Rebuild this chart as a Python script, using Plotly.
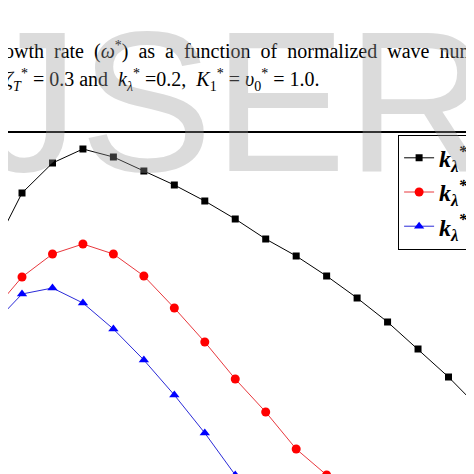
import plotly.graph_objects as go

# point index (-1 lies just left of the crop)
idx_black = list(range(-1, 16))
black = [2.22, 2.82, 3.12, 3.26, 3.18, 3.04, 2.90, 2.74, 2.56, 2.36, 2.19, 1.99, 1.77, 1.53, 1.26, 0.98, 0.67]
idx_red = list(range(-1, 11))
red = [1.62, 1.98, 2.21, 2.31, 2.21, 1.99, 1.67, 1.33, 0.96, 0.63, 0.26, 0.0]
idx_blue = list(range(-1, 8))
blue = [1.49, 1.81, 1.87, 1.72, 1.46, 1.15, 0.80, 0.42, 0.0]
labels = ["<b><i>k<sub>λ</sub><sup>*</sup>=0.1</i></b>",
          "<b><i>k<sub>λ</sub><sup>*</sup>=0.2</i></b>",
          "<b><i>k<sub>λ</sub><sup>*</sup>=0.3</i></b>"]
tick_idx = [0, 3, 6, 9, 12, 15]

fig = go.Figure()
fig.add_trace(go.Scatter(x=idx_black, y=black, name=labels[0], mode="lines+markers",
                         line=dict(color="black", width=1), marker=dict(symbol="square", size=7, color="black")))
fig.add_trace(go.Scatter(x=idx_red, y=red, name=labels[1], mode="lines+markers",
                         line=dict(color="#e8383d", width=1), marker=dict(symbol="circle", size=9, color="red")))
fig.add_trace(go.Scatter(x=idx_blue, y=blue, name=labels[2], mode="lines+markers",
                         line=dict(color="#2a2ad8", width=1), marker=dict(symbol="triangle-up", size=9, color="blue")))

fig.update_layout(
    width=474, height=474, margin=dict(l=0, r=0, t=125, b=7, autoexpand=False),
    plot_bgcolor="white", paper_bgcolor="white",
    font=dict(family="Liberation Serif", color="black"),
    legend=dict(x=0.823, y=0.995, xanchor="left", yanchor="top", bgcolor="white",
                bordercolor="black", borderwidth=1,
                font=dict(size=24, family="Liberation Serif"), tracegroupgap=8),
    xaxis=dict(range=[-0.46, 15.1], showgrid=False, zeroline=False, showline=True, linecolor="black",
               linewidth=1.5, mirror=True, ticks="outside", ticklen=10, tickcolor="black", tickwidth=1.5,
               tickvals=tick_idx, showticklabels=False),
    yaxis=dict(range=[0, 3.42], showgrid=False, zeroline=False, showline=True, linecolor="black",
               linewidth=1.5, mirror=True, showticklabels=False, ticks=""),
)
fig.add_annotation(xref="paper", yref="paper", x=1.01, y=1.0, yshift=83, xanchor="right", yanchor="middle",
                   text="owth  rate  (<i>ω</i><sup>*</sup>)  as  a  function  of  normalized  wave  numb",
                   showarrow=False, font=dict(size=20))
fig.add_annotation(xref="paper", yref="paper", x=-0.01, y=1.0, yshift=53, xanchor="left", yanchor="middle",
                   text="<i>ζ</i><sub><i>T</i></sub><sup>*</sup> = 0.3 and  <i>k</i><sub><i>λ</i></sub><sup>*</sup> =0.2,  <i>K</i><sub>1</sub><sup>*</sup> = <i>υ</i><sub>0</sub><sup>*</sup> = 1.0.",
                   showarrow=False, font=dict(size=20))
fig.add_annotation(xref="paper", yref="paper", x=0.42, y=1.0, yshift=145, xanchor="center",
                   text="IJSER", showarrow=False, opacity=0.35,
                   font=dict(size=200, family="Liberation Sans", color="#999999"))
fig.write_html("out.html")
